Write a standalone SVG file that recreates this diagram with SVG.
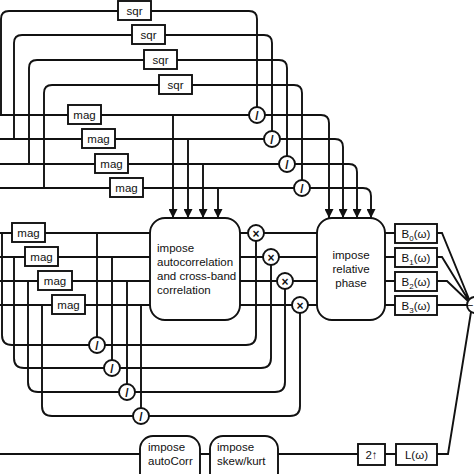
<svg xmlns="http://www.w3.org/2000/svg" width="474" height="474" viewBox="0 0 474 474">
<style>
.ln{fill:none;stroke:#111;stroke-width:1.9}
.bx{fill:#fff;stroke:#111;stroke-width:1.9}
.t{font-family:"Liberation Sans",Arial,sans-serif;font-size:11.5px;fill:#111}
.c{text-anchor:middle}
.s{font-size:8px}
.o{font-size:12px;font-weight:bold}
.ar{marker-end:url(#ah)}
</style>
<defs>
<marker id="ah" viewBox="0 0 10 10" refX="10" refY="5" markerWidth="10" markerHeight="9" orient="auto" markerUnits="userSpaceOnUse"><path d="M0,0L10,5L0,10z" fill="#111"/></marker>
</defs>
<rect width="474" height="474" fill="#fff"/>
<g id="connectors" class="ln">
<path d="M0,115H68M101,115H249M1,115V19Q1,11 9,11H118M151,11H249Q257,11 257,19V107"/>
<path class="ar" d="M265,115H321Q329,115 329,123V218"/>
<path class="ar" d="M173,115V218"/>
<path class="ar" d="M188,139V218"/>
<path class="ar" d="M203,164V218"/>
<path class="ar" d="M218,188V218"/>
<path d="M0,139H82M115,139H264M14,139V43Q14,35 22,35H132M165,35H264Q272,35 272,43V131"/>
<path class="ar" d="M280,139H335Q343,139 343,147V218"/>
<path d="M0,164H95M128,164H279M29,164V68Q29,60 37,60H144M177,60H279Q287,60 287,68V156"/>
<path class="ar" d="M295,164H349Q357,164 357,172V218"/>
<path d="M0,188H110M143,188H294M44,188V93Q44,85 52,85H159M192,85H294Q302,85 302,93V180"/>
<path class="ar" d="M310,188H363Q371,188 371,196V218"/>
<path d="M0,233H12M45,233H150M2,233V335Q2,345 12,345H89M97,233V337M105,345H246Q256,345 256,335V241M240,233H248M264,233H317"/>
<path d="M0,257H25M58,257H150M14,257V358Q14,368 24,368H104M112,257V360M120,368H261Q271,368 271,358V265M240,257H263M279,257H317"/>
<path d="M0,281H38M72,281H150M28,281V382Q28,392 38,392H119M127,281V384M135,392H275Q285,392 285,382V289M240,281H277M293,281H317"/>
<path d="M0,305H52M85,305H150M42,305V406Q42,416 52,416H133M141,305V408M149,416H290Q300,416 300,406V313M240,305H292M308,305H317"/>
<path d="M385,233H395M385,257H395M385,281H395M385,305H395"/>
<path d="M437,233H442L469,299M437,257H442L469,301M437,281H447L469,302M437,305H467"/>
<path d="M471,312L448,454H437M396,454H385M358,454H278M200,454H210M0,454H140"/>
</g>
<g id="sqr1"><rect class="bx" x="118" y="1" width="33" height="19"/><text class="t c" x="134.5" y="15">sqr</text></g>
<g id="sqr2"><rect class="bx" x="132" y="25" width="33" height="19"/><text class="t c" x="148.5" y="39">sqr</text></g>
<g id="sqr3"><rect class="bx" x="144" y="50" width="33" height="19"/><text class="t c" x="160.5" y="64">sqr</text></g>
<g id="sqr4"><rect class="bx" x="159" y="75" width="33" height="19"/><text class="t c" x="175.5" y="89">sqr</text></g>
<g id="mag1"><rect class="bx" x="68" y="105" width="33" height="19"/><text class="t c" x="84.5" y="119">mag</text></g>
<g id="mag2"><rect class="bx" x="82" y="129" width="33" height="19"/><text class="t c" x="98.5" y="143">mag</text></g>
<g id="mag3"><rect class="bx" x="95" y="154" width="33" height="19"/><text class="t c" x="111.5" y="168">mag</text></g>
<g id="mag4"><rect class="bx" x="110" y="178" width="33" height="19"/><text class="t c" x="126.5" y="192">mag</text></g>
<g id="mag5"><rect class="bx" x="12" y="223" width="33" height="19"/><text class="t c" x="28.5" y="237">mag</text></g>
<g id="mag6"><rect class="bx" x="25" y="247" width="33" height="19"/><text class="t c" x="41.5" y="261">mag</text></g>
<g id="mag7"><rect class="bx" x="38" y="271" width="34" height="19"/><text class="t c" x="55" y="285">mag</text></g>
<g id="mag8"><rect class="bx" x="52" y="295" width="33" height="19"/><text class="t c" x="68.5" y="309">mag</text></g>
<g id="div1"><circle class="bx" cx="257" cy="115" r="8"/><text class="t c o" x="257" y="119.5">/</text></g>
<g id="div2"><circle class="bx" cx="272" cy="139" r="8"/><text class="t c o" x="272" y="143.5">/</text></g>
<g id="div3"><circle class="bx" cx="287" cy="164" r="8"/><text class="t c o" x="287" y="168.5">/</text></g>
<g id="div4"><circle class="bx" cx="302" cy="188" r="8"/><text class="t c o" x="302" y="192.5">/</text></g>
<g id="div5"><circle class="bx" cx="97" cy="345" r="8"/><text class="t c o" x="97" y="349.5">/</text></g>
<g id="div6"><circle class="bx" cx="112" cy="368" r="8"/><text class="t c o" x="112" y="372.5">/</text></g>
<g id="div7"><circle class="bx" cx="127" cy="392" r="8"/><text class="t c o" x="127" y="396.5">/</text></g>
<g id="div8"><circle class="bx" cx="141" cy="416" r="8"/><text class="t c o" x="141" y="420.5">/</text></g>
<g id="mul1"><circle class="bx" cx="256" cy="233" r="8"/><text class="t c o" x="256" y="237.5">×</text></g>
<g id="mul2"><circle class="bx" cx="271" cy="257" r="8"/><text class="t c o" x="271" y="261.5">×</text></g>
<g id="mul3"><circle class="bx" cx="285" cy="281" r="8"/><text class="t c o" x="285" y="285.5">×</text></g>
<g id="mul4"><circle class="bx" cx="300" cy="305" r="8"/><text class="t c o" x="300" y="309.5">×</text></g>
<g id="autocorr"><rect class="bx" x="150" y="218" width="90" height="102" rx="15"/><text class="t" x="157"><tspan x="157" y="252">impose</tspan><tspan x="157" y="266">autocorrelation</tspan><tspan x="157" y="280">and cross-band</tspan><tspan x="157" y="294">correlation</tspan></text></g>
<g id="phase"><rect class="bx" x="317" y="218" width="68" height="102" rx="15"/><text class="t c"><tspan x="351" y="259">impose</tspan><tspan x="351" y="273">relative</tspan><tspan x="351" y="287">phase</tspan></text></g>
<g id="B0"><rect class="bx" x="395" y="224" width="42" height="19"/><text class="t c" x="416" y="238">B<tspan class="s" dy="3">0</tspan><tspan dy="-3">(ω)</tspan></text></g>
<g id="B1"><rect class="bx" x="395" y="248" width="42" height="19"/><text class="t c" x="416" y="262">B<tspan class="s" dy="3">1</tspan><tspan dy="-3">(ω)</tspan></text></g>
<g id="B2"><rect class="bx" x="395" y="272" width="42" height="19"/><text class="t c" x="416" y="286">B<tspan class="s" dy="3">2</tspan><tspan dy="-3">(ω)</tspan></text></g>
<g id="B3"><rect class="bx" x="395" y="296" width="42" height="19"/><text class="t c" x="416" y="310">B<tspan class="s" dy="3">3</tspan><tspan dy="-3">(ω)</tspan></text></g>
<g id="sum"><circle class="bx" cx="475" cy="305" r="8"/><text class="t c" x="470" y="309">−</text></g>
<g id="L"><rect class="bx" x="396" y="444" width="41" height="21"/><text class="t c" x="416.5" y="459">L(ω)</text></g>
<g id="up2"><rect class="bx" x="358" y="444" width="27" height="21"/><text class="t c" x="371.5" y="459">2↑</text></g>
<g id="autoCorr"><rect class="bx" x="140" y="436" width="60" height="50" rx="13"/><text class="t"><tspan x="148" y="451">impose</tspan><tspan x="148" y="465">autoCorr</tspan></text></g>
<g id="skewkurt"><rect class="bx" x="210" y="436" width="68" height="50" rx="13"/><text class="t"><tspan x="217" y="451">impose</tspan><tspan x="217" y="465">skew/kurt</tspan></text></g>
</svg>
